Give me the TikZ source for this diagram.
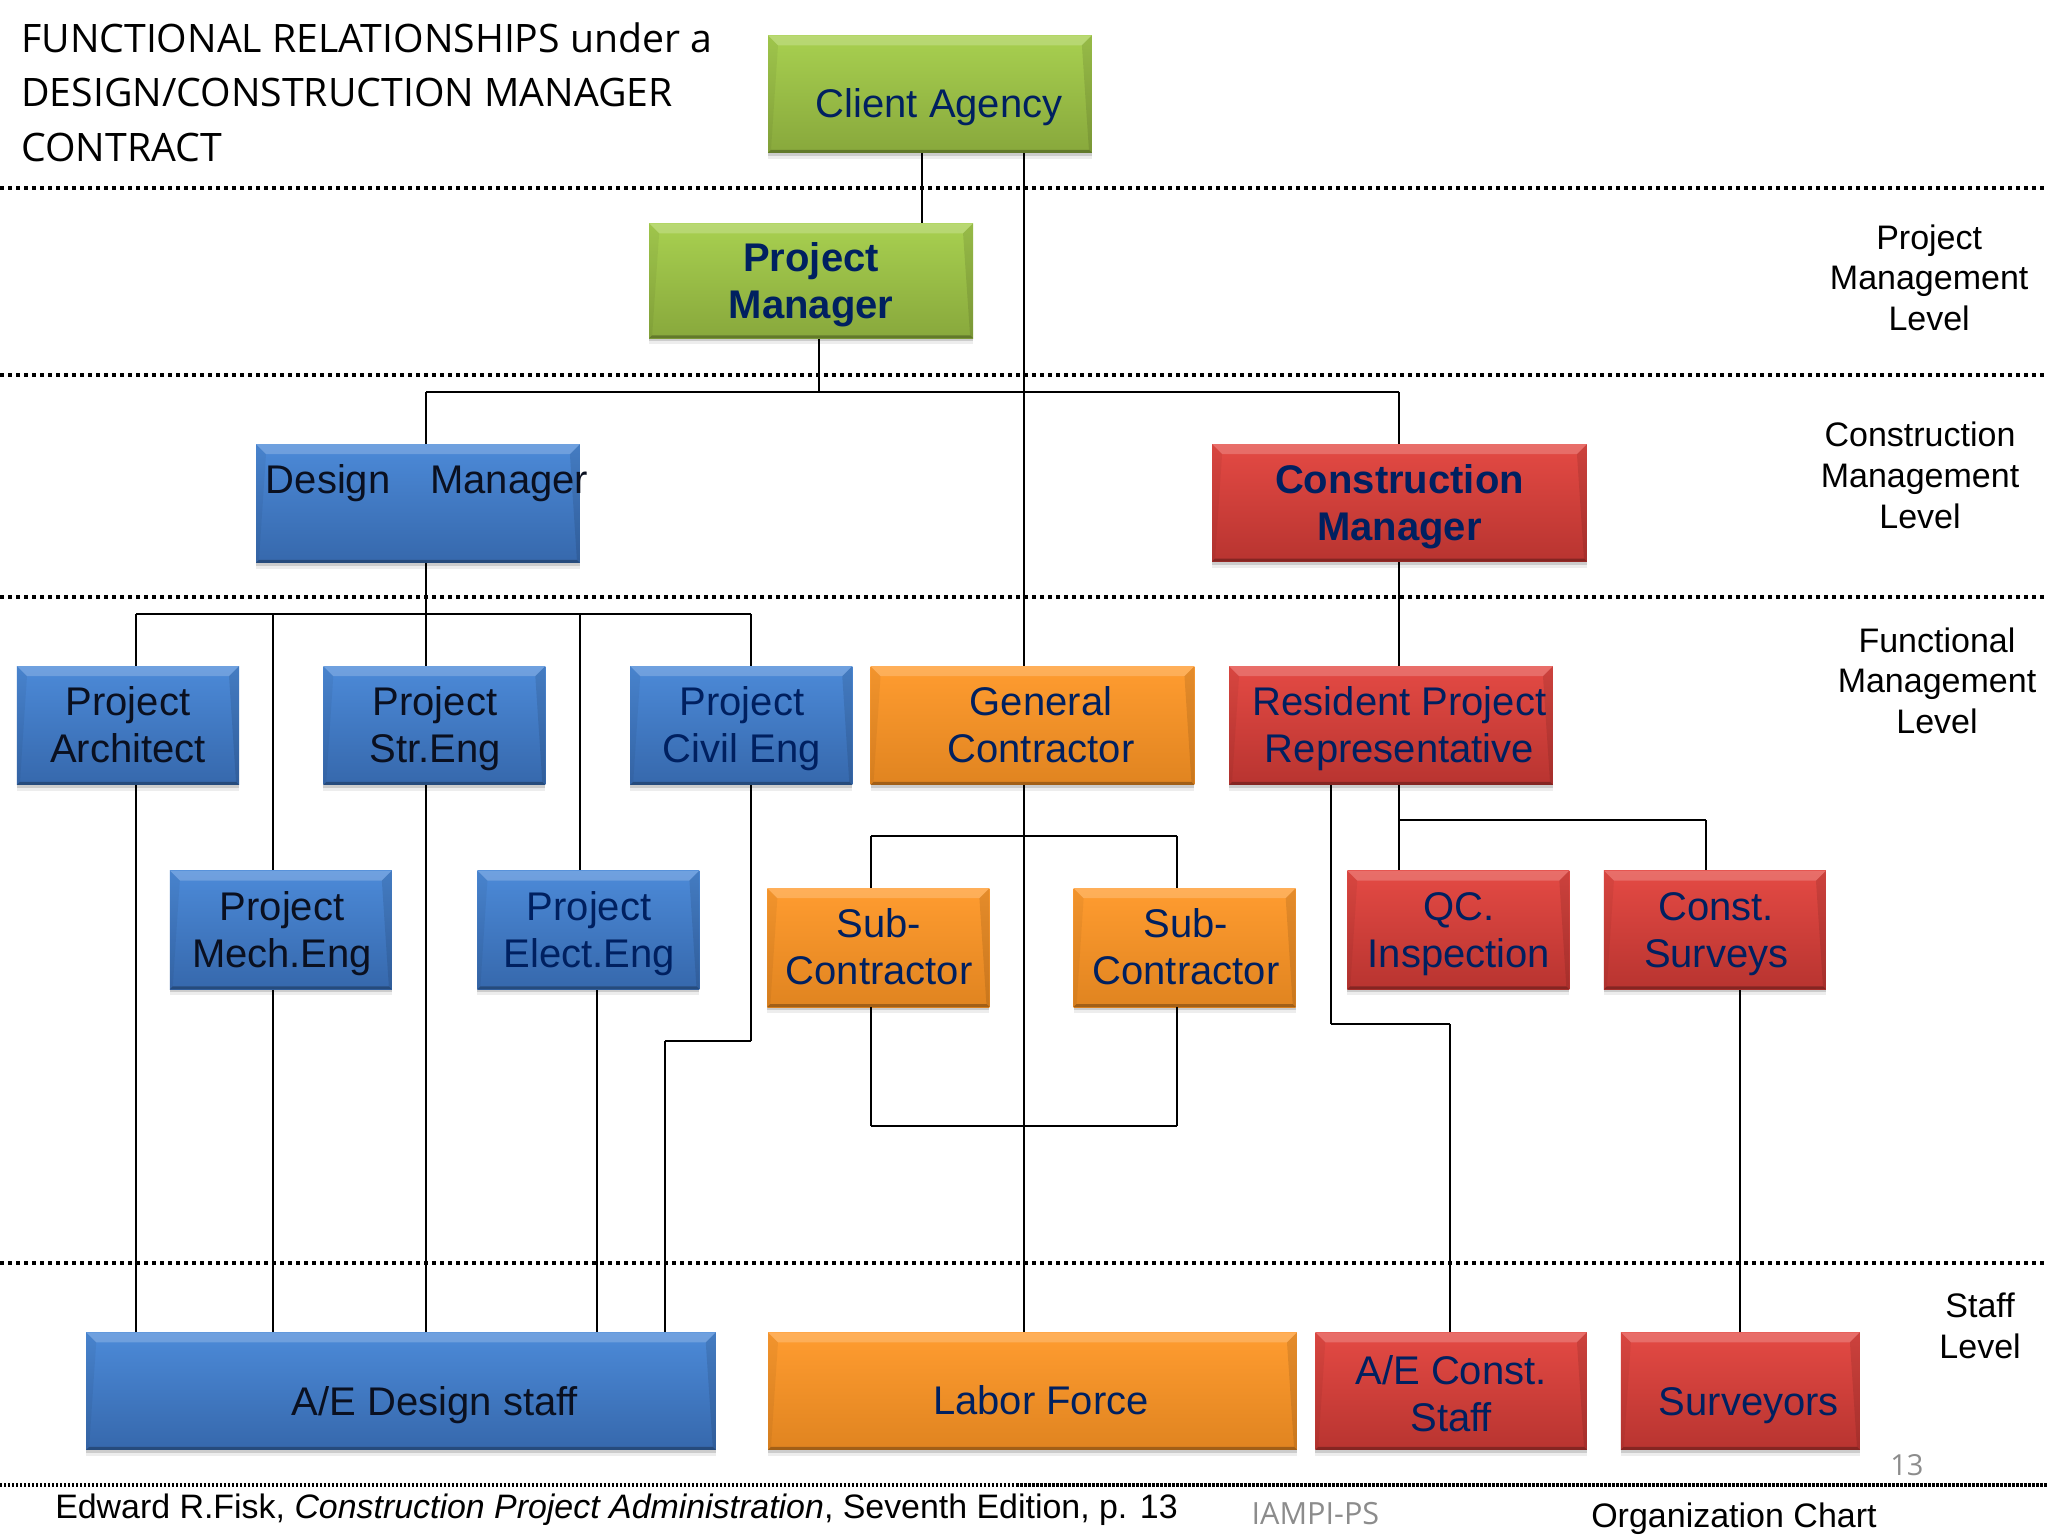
\documentclass[tikz,border=0pt]{standalone}
\usepackage{fontspec}
\setmainfont{Liberation Sans}
\newfontfamily\titlefont{Open Sans}
\usetikzlibrary{shadows}
\definecolor{navy}{HTML}{002060}
\definecolor{inkblack}{HTML}{0A1020}
\definecolor{greytext}{HTML}{8C8C8C}
\definecolor{greentop}{HTML}{A8D050}
\definecolor{greenbot}{HTML}{88A83C}
\definecolor{bluetop}{HTML}{4C8AD8}
\definecolor{bluebot}{HTML}{3668AC}
\definecolor{orangetop}{HTML}{FF9C30}
\definecolor{orangebot}{HTML}{E08420}
\definecolor{redtop}{HTML}{E44A44}
\definecolor{redbot}{HTML}{B83430}
\def\u{0.653pt}
\tikzset{
  bevel/.style={path picture={
    \fill[white,opacity=.2] (path picture bounding box.north west) -- (path picture bounding box.north east)
      -- ([xshift=-5pt,yshift=-5pt]path picture bounding box.north east) -- ([xshift=5pt,yshift=-5pt]path picture bounding box.north west) -- cycle;
    \fill[black,opacity=.28] (path picture bounding box.south west) -- (path picture bounding box.south east)
      -- ([xshift=-1.5pt,yshift=1.5pt]path picture bounding box.south east) -- ([xshift=1.5pt,yshift=1.5pt]path picture bounding box.south west) -- cycle;
    \fill[black,opacity=.1] (path picture bounding box.north east) -- (path picture bounding box.south east)
      -- ([xshift=-1.5pt,yshift=1.5pt]path picture bounding box.south east) -- ([xshift=-5pt,yshift=-5pt]path picture bounding box.north east) -- cycle;
    \fill[black,opacity=.05] (path picture bounding box.north west) -- (path picture bounding box.south west)
      -- ([xshift=1.5pt,yshift=1.5pt]path picture bounding box.south west) -- ([xshift=5pt,yshift=-5pt]path picture bounding box.north west) -- cycle;
  }},
  box/.style 2 args={inner sep=0pt,minimum width=#1*\u,minimum height=#2*\u,bevel,
    general shadow={shadow yshift=-3pt,opacity=.07,fill=black},
    general shadow={shadow yshift=-1.5pt,opacity=.14,fill=black}},
  greenbox/.style 2 args={box={#1}{#2},top color=greentop,bottom color=greenbot},
  bluebox/.style 2 args={box={#1}{#2},top color=bluetop,bottom color=bluebot},
  orangebox/.style 2 args={box={#1}{#2},top color=orangetop,bottom color=orangebot},
  redbox/.style 2 args={box={#1}{#2},top color=redtop,bottom color=redbot},
  boxtext/.style={align=center,inner sep=0pt,text=navy,font=\fontsize{20}{23.6}\selectfont},
  boxbold/.style={boxtext,font=\fontsize{20}{23.6}\selectfont\bfseries},
  boxblack/.style={boxtext,text=inkblack},
  leveltext/.style={align=center,inner sep=0pt,text=black,font=\fontsize{17}{20.3}\selectfont},
  levelline/.style={line width=2pt,dash pattern=on 2pt off 2pt},
  conn/.style={-,line width=1pt,black},
}
\begin{document}
\begin{tikzpicture}[x=0.653pt,y=-0.653pt]
    \useasboundingbox (0,0) rectangle (1568,1176);
    % level lines
    \draw [levelline] (0,144) -- (1568,144);
    \draw [levelline] (0,287) -- (1568,287);
    \draw [levelline] (0,457) -- (1568,457);
    \draw [levelline] (0,967) -- (1568,967);
    \draw [levelline,dash pattern=on 1.2pt off .8pt] (0,1137) -- (1568,1137);
    % boxes
    \node (A0_0) [greenbox={248}{90}] at (712,72) {};
    \node (A1_0) [greenbox={248}{88}] at (621,215) {};
    \node (A2_0) [bluebox={248}{91}] at (320,385.5) {};
    \node (A2_1) [redbox={287}{90}] at (1071.5,385) {};
    \node (A3_0) [bluebox={170}{91}] at (98,555.5) {};
    \node (A3_1) [bluebox={170}{91}] at (332.5,555.5) {};
    \node (A3_2) [bluebox={170}{91}] at (567.5,555.5) {};
    \node (A3_3) [orangebox={248}{91}] at (790.5,555.5) {};
    \node (A3_4) [redbox={248}{91}] at (1065,555.5) {};
    \node (A4_0) [bluebox={170}{91}] at (215,712) {};
    \node (A4_1) [bluebox={170}{91}] at (450.5,712) {};
    \node (A4_2) [orangebox={170}{91}] at (672.5,725.5) {};
    \node (A4_3) [orangebox={170}{91}] at (907,725.5) {};
    \node (A4_4) [redbox={170}{91}] at (1116.5,712) {};
    \node (A4_5) [redbox={170}{91}] at (1313,712) {};
    \node (A5_0) [bluebox={482}{90}] at (307,1065) {};
    \node (A5_1) [orangebox={405}{90}] at (790.5,1065) {};
    \node (A5_2) [redbox={208}{90}] at (1111,1065) {};
    \node (A5_3) [redbox={183}{90}] at (1332.5,1065) {};
    % texts in the boxes
    \node (T0_0) [boxtext] at (719,82) {Client Agency};
    \node (T1_0) [boxbold] at (621,218) {Project\\Manager};
    \node (T2_0) [boxblack] at (327,370) {Design\hspace{20pt}Manager};
    \node (T2_1) [boxbold] at (1071.5,388) {Construction\\Manager};
    \node (T3_0) [boxblack] at (98,555) {Project\\Architect};
    \node (T3_1) [boxblack] at (333,558) {Project\\Str.Eng};
    \node (T3_2) [boxtext] at (568,558) {Project\\Civil Eng};
    \node (T3_3) [boxtext] at (797,555) {General\\Contractor};
    \node (T3_4) [boxtext] at (1071.5,558) {Resident Project\\Representative};
    \node (T4_0) [boxblack] at (216,715) {Project\\Mech.Eng};
    \node (T4_1) [boxtext] at (451,715) {Project\\Elect.Eng};
    \node (T4_2) [boxtext] at (673,725) {Sub-\\Contractor};
    \node (T4_3) [boxtext] at (908,725) {Sub-\\Contractor};
    \node (T4_4) [boxtext] at (1117,715) {QC.\\Inspection};
    \node (T4_5) [boxtext] at (1314,715) {Const.\\Surveys};
    \node (T5_0) [boxblack] at (333,1075.5) {A/E Design staff};
    \node (T5_1) [boxtext] at (797,1072) {Labor Force};
    \node (T5_2) [boxtext] at (1111,1067) {A/E Const.\\Staff};
    \node (T5_3) [boxtext] at (1339,1076) {Surveyors};
    % texts round the chart
    \node (title) [anchor=north west,align=left,inner sep=0pt,font=\titlefont\fontsize{19.6}{27.2}\selectfont] at (16,17)
      {FUNCTIONAL RELATIONSHIPS under a\\DESIGN/CONSTRUCTION MANAGER\\CONTRACT};
    \node (L0) [leveltext] at (1477,212.5) {Project\\Management\\Level};
    \node (L1) [leveltext] at (1470,364) {Construction\\Management\\Level};
    \node (L2) [leveltext] at (1483,521) {Functional\\Management\\Level};
    \node (L3) [leveltext] at (1516,1015) {Staff\\Level};
    \node (cite) [anchor=west,inner sep=0pt,font=\fontsize{16.95}{20}\selectfont] at (42,1156)
      {Edward R.Fisk, \textit{Construction Project Administration}, Seventh Edition, p. 13};
    \node (org) [anchor=west,inner sep=0pt,font=\fontsize{17}{20}\selectfont] at (1218,1163) {Organization Chart};
    \node (iampi) [anchor=west,inner sep=0pt,text=greytext,font=\titlefont\fontsize{15.3}{17}\selectfont] at (958,1159) {IAMPI-PS};
    \node (page) [inner sep=0pt,text=greytext,font=\titlefont\fontsize{14.5}{17}\selectfont] at (1460,1122) {13};
    % rails and junctions
    \coordinate (R0) at (706,0);
    \coordinate (R1) at (784,0);
    \coordinate (R2) at (104,0);
    \coordinate (R3) at (326,0);
    \coordinate (R4) at (457,0);
    \coordinate (R5) at (1332,0);
    \coordinate (J0) at (627,300);
    \coordinate (J1) at (326,300);
    \coordinate (J2) at (1071,300);
    \coordinate (J4) at (104,470);
    \coordinate (J5) at (209,470);
    \coordinate (J6) at (444,470);
    \coordinate (J7) at (575,470);
    \coordinate (J8) at (575,797);
    \coordinate (J9) at (509,797);
    \coordinate (J11) at (667,640);
    \coordinate (J12) at (901,640);
    \coordinate (J13) at (667,862);
    \coordinate (J14) at (901,862);
    \coordinate (J15) at (1071,628);
    \coordinate (J16) at (1306,628);
    \coordinate (J17) at (1019,784);
    \coordinate (J18) at (1110,784);
    % client and project manager
    \path (A0_0.south -| R0) edge [conn] (A1_0.north -| R0);
    \path (A0_0.south -| R1) edge [conn] (A3_3.north -| R1);
    \path (A3_3.south -| R1) edge [conn] (A5_1.north -| R1);
    \path (A1_0.south -| J0) edge [conn] (J0);
    \path (J1) edge [conn] (J2);
    \path (J1) edge [conn] (A2_0.north -| J1);
    \path (J2) edge [conn] (A2_1.north -| J2);
    % design side
    \path (A2_0.south -| R3) edge [conn] (A3_1.north -| R3);
    \path (J4) edge [conn] (J7);
    \path (J4) edge [conn] (A3_0.north -| J4);
    \path (J5) edge [conn] (A4_0.north -| J5);
    \path (J6) edge [conn] (A4_1.north -| J6);
    \path (J7) edge [conn] (A3_2.north -| J7);
    \path (A3_0.south -| R2) edge [conn] (A5_0.north -| R2);
    \path (A3_1.south -| R3) edge [conn] (A5_0.north -| R3);
    \path (A4_0.south -| J5) edge [conn] (A5_0.north -| J5);
    \path (A4_1.south -| R4) edge [conn] (A5_0.north -| R4);
    \path (A3_2.south -| J8) edge [conn] (J8);
    \path (J8) edge [conn] (J9);
    \path (J9) edge [conn] (A5_0.north -| J9);
    % general contractor side
    \path (J11) edge [conn] (J12);
    \path (J11) edge [conn] (A4_2.north -| J11);
    \path (J12) edge [conn] (A4_3.north -| J12);
    \path (A4_2.south -| J13) edge [conn] (J13);
    \path (A4_3.south -| J14) edge [conn] (J14);
    \path (J13) edge [conn] (J14);
    % construction side
    \path (A2_1.south -| J2) edge [conn] (A3_4.north -| J2);
    \path (A3_4.south -| J15) edge [conn] (A4_4.north -| J15);
    \path (J15) edge [conn] (J16);
    \path (J16) edge [conn] (A4_5.north -| J16);
    \path (A3_4.south -| J17) edge [conn] (J17);
    \path (J17) edge [conn] (J18);
    \path (J18) edge [conn] (A5_2.north -| J18);
    \path (A4_5.south -| R5) edge [conn] (A5_3.north -| R5);
  \end{tikzpicture}
\end{document}
